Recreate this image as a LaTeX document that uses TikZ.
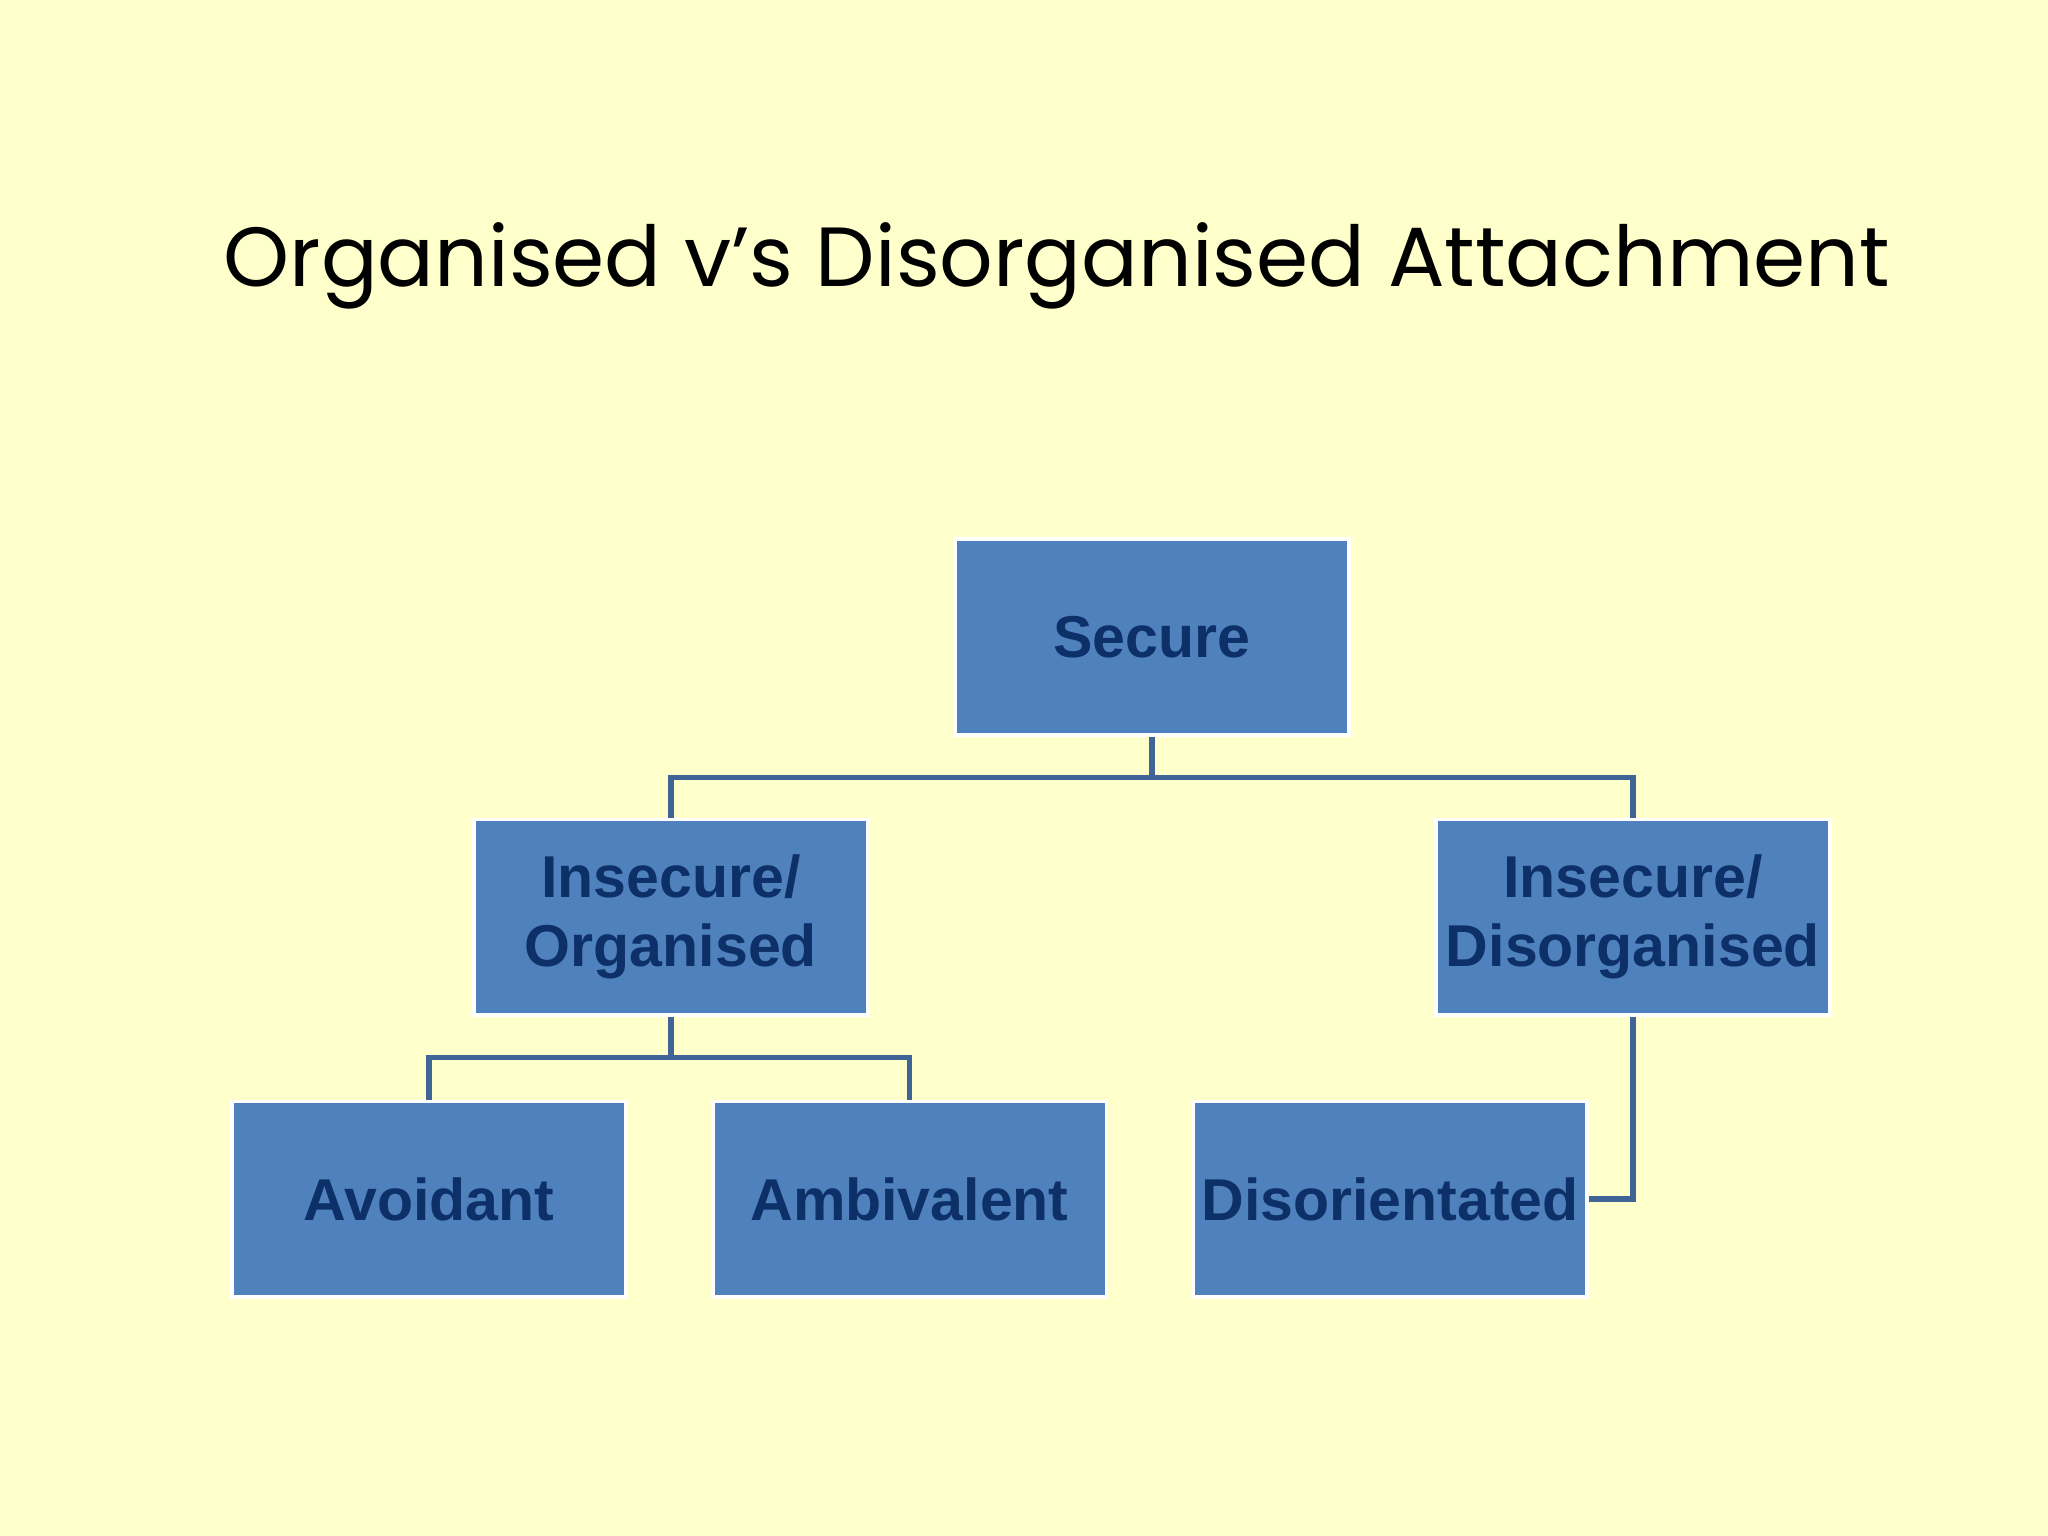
\documentclass[tikz,border=0pt]{standalone}
\usepackage{fontspec}
\setmainfont{Liberation Sans}
\newfontfamily\titlefont{Poppins}
\usetikzlibrary{positioning}

\definecolor{slidebg}{HTML}{FFFFCC}
\definecolor{boxblue}{HTML}{4F81BD}
\definecolor{boxtext}{HTML}{0E3068}
\definecolor{linkblue}{HTML}{3F6495}

\begin{document}
\begin{tikzpicture}[
  catbox/.style={rectangle, draw=white, line width=1pt, fill=boxblue,
    minimum width=39.35mm, minimum height=19.55mm, align=center,
    text=boxtext, font=\fontsize{16.8}{19.8}\selectfont\bfseries, inner sep=1pt},
  link/.style={draw=linkblue, line width=1.6pt},
  ttl/.style={font=\titlefont\fontsize{23.9}{28}\selectfont, anchor=base},
]

% Background and page size
\useasboundingbox (0,0) rectangle (20.48,-15.36);
\fill[slidebg] (0,0) rectangle (20.48,-15.36);

% Title
\node[ttl] (title) at (10.57,-2.87) {Organised v’s Disorganised Attachment};

% Top level
\node[catbox] (secure) at (11.52,-6.37) {Secure};

% Second level
\node[catbox, below=8.1mm of secure, xshift=-4.81cm] (insorg) {Insecure/\\Organised};
\node[catbox, below=8.1mm of secure, xshift=4.81cm] (insdis) {Insecure/\\Disorganised};

% Third level
\node[catbox, below=8.3mm of insorg, xshift=-2.42cm] (avoid) {Avoidant};
\node[catbox, right=8.35mm of avoid] (ambiv) {Ambivalent};
\node[catbox, right=8.35mm of ambiv] (disor) {Disorientated};

% Connectors
\draw[link] (secure.south) -- ++(0,-0.41) coordinate (sjoin);
\draw[link] (sjoin) -| (insorg.north);
\draw[link] (sjoin) -| (insdis.north);

\draw[link] (insorg.south) -- ++(0,-0.41) coordinate (ojoin);
\draw[link] (ojoin) -| (avoid.north);
\draw[link] (ojoin) -| (ambiv.north);

\draw[link] (insdis.south) |- (disor.east);

\end{tikzpicture}
\end{document}
